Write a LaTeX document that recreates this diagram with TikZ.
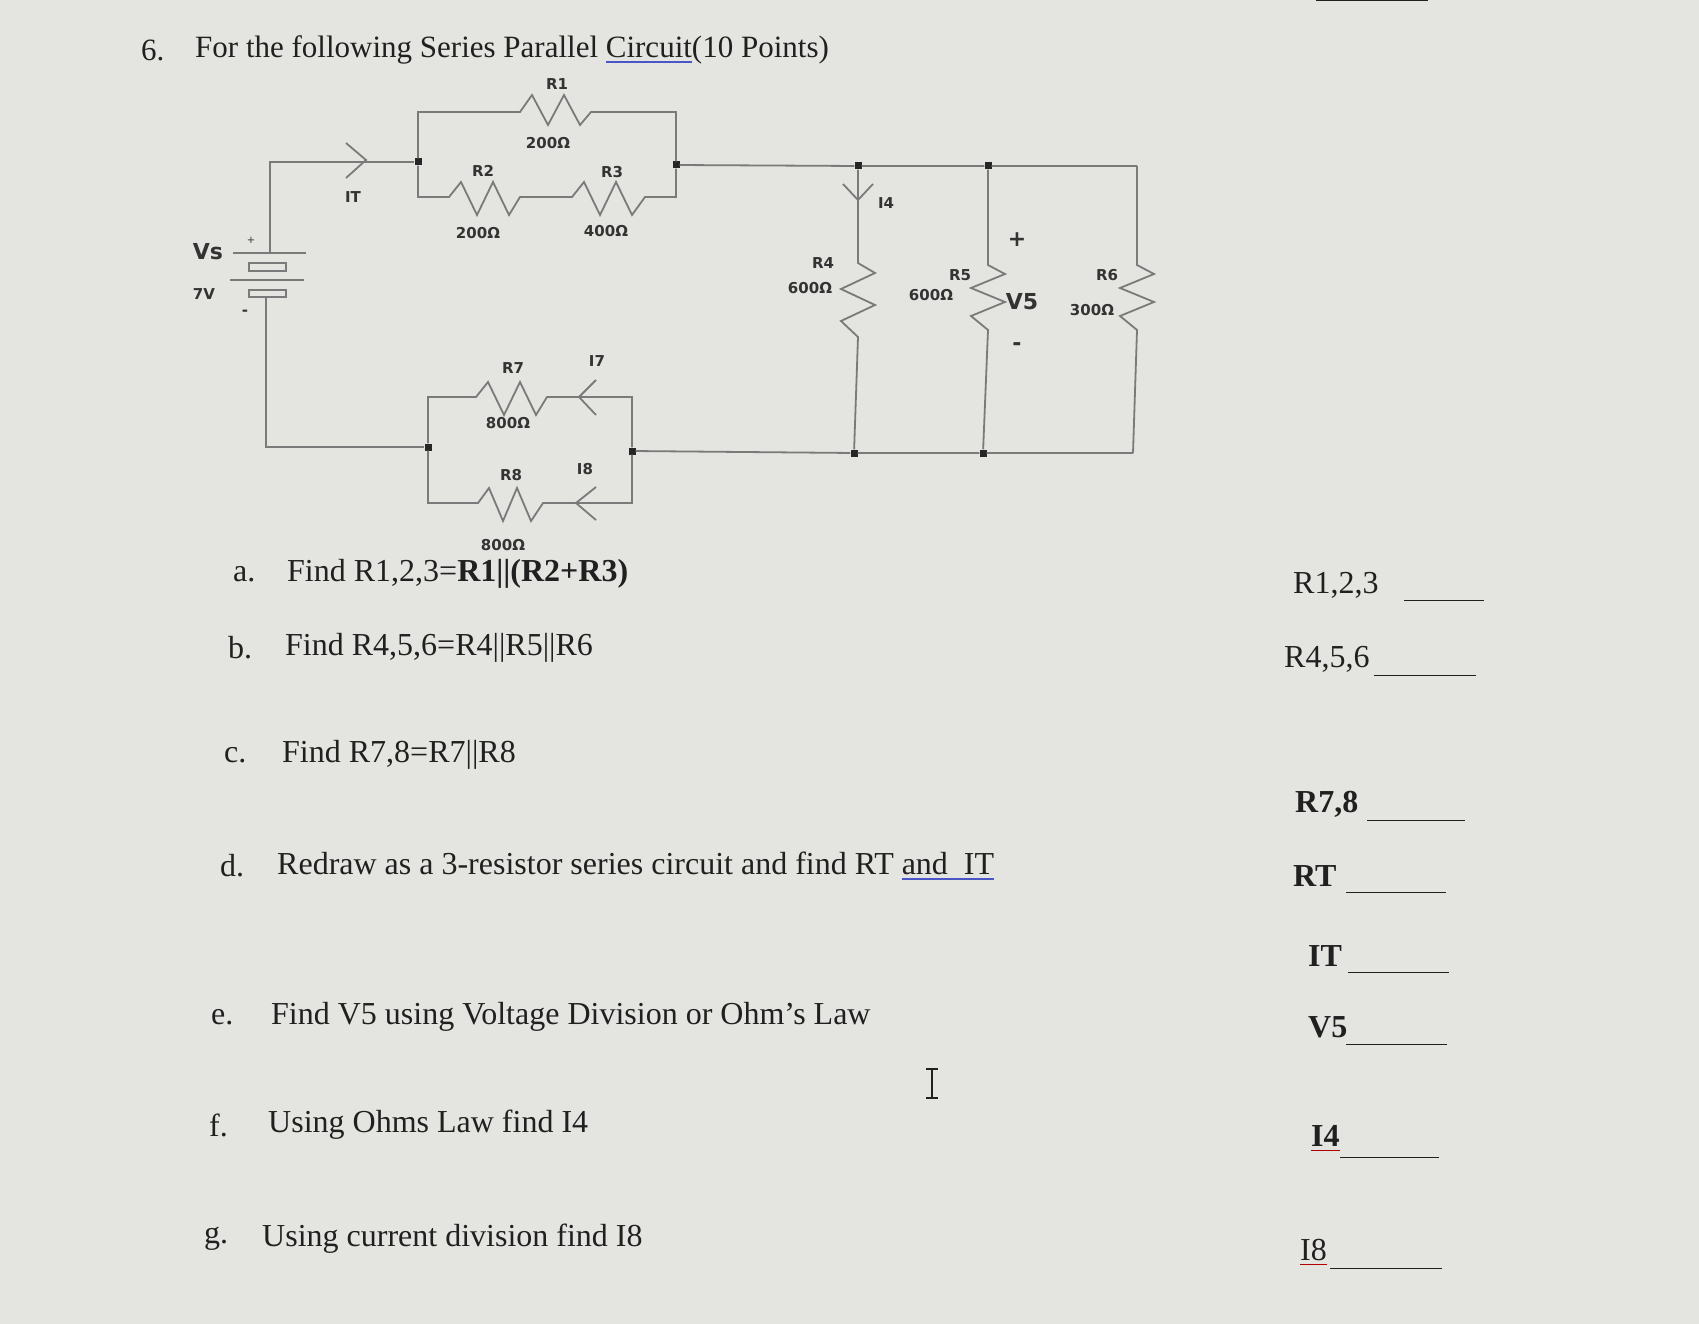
\documentclass[tikz,border=0pt]{standalone}
\usepackage{fontspec}
\setmainfont{Liberation Serif}
\newfontfamily\lblfont{DejaVu Sans}
\definecolor{bg}{HTML}{E4E4E1}
\definecolor{wire}{HTML}{7A7A7A}
\definecolor{ink}{HTML}{202020}
\definecolor{lnk}{HTML}{4A55C8}
\newcommand\bluul[1]{\setbox0\hbox{#1}\rlap{\color{lnk}\rule[-5pt]{\wd0}{1.6pt}}\box0}
\newcommand\redul[1]{\setbox0\hbox{#1}\rlap{\color{red!70!black}\rule[-5pt]{\wd0}{1pt}}\box0}
\begin{document}
\begin{tikzpicture}[x=1pt,y=-1pt,
  wr/.style={draw=wire,line width=1.8pt,line join=miter},
  jn/.style={fill=black!85,inner sep=0pt,minimum size=7pt,rectangle},
  lbl/.style={font=\lblfont\bfseries\fontsize{15}{17}\selectfont,text=black!80,inner sep=0pt},
  qt/.style={font=\fontsize{32}{36}\selectfont,text=ink,anchor=west,inner sep=0pt},
  ans/.style={draw=ink,line width=1pt}]
\fill[bg] (0,0) rectangle (1699,1324);
\useasboundingbox (0,0) rectangle (1699,1324);
\draw[ans] (1316,1) -- (1428,1);
% junctions
\node[jn] (n1) at (418,162) {};
\node[jn] (n2) at (676,165) {};
\node[jn] (n4t) at (858,166) {};
\node[jn] (n5t) at (988,166) {};
\node[jn] (n4b) at (854,453) {};
\node[jn] (n5b) at (983,453) {};
\node[jn] (nL) at (428,447) {};
\node[jn] (nR) at (632,451) {};
\coordinate (bt) at (270,253);
\coordinate (bb) at (266,297);
\coordinate (r6t) at (1137,166);
\coordinate (r6b) at (1133,453);
% battery
\draw[wr] (bt) |- (n1);
\draw[wr] (233,253) -- (306,253);
\draw[wr] (249,263) rectangle (286,271);
\draw[wr] (230,280) -- (304,280);
\draw[wr] (249,290) rectangle (286,297);
\draw[wr] (bb) |- (nL);
% R1
\draw[wr] (n1) |- (520,112) -- ++(12,-17) -- ++(16,30) -- ++(16,-30) -- ++(16,30) -- ++(11,-13) -| (n2);
% R2 R3
\draw[wr] (n1) |- (449,197) -- ++(12,-15) -- ++(16,33) -- ++(16,-33) -- ++(16,33) -- ++(11,-18)
  -- (572,197) -- ++(12,-15) -- ++(16,33) -- ++(16,-33) -- ++(16,33) -- ++(13,-18) -| (n2);
% top wire
\draw[wr] (n2) -- (n4t) -- (n5t) -- (r6t);
% R4
\draw[wr] (n4t) -- (858,263) -- ++(17,10) -- ++(-34,16) -- ++(34,16) -- ++(-34,16) -- ++(17,16) -- (n4b);
% R5
\draw[wr] (n5t) -- (988,265) -- ++(17,9) -- ++(-34,14) -- ++(34,14) -- ++(-34,14) -- ++(17,14) -- (n5b);
% R6
\draw[wr] (r6t) -- (1137,265) -- ++(17,9) -- ++(-34,14) -- ++(34,14) -- ++(-34,14) -- ++(17,14) -- (r6b);
% bottom
\draw[wr] (nR) -- (n4b) -- (n5b) -- (r6b);
% R7 R8
\draw[wr] (nL) |- (476,397) -- ++(12,-15) -- ++(16,33) -- ++(16,-33) -- ++(16,33) -- ++(11,-18) -| (nR);
\draw[wr] (nL) |- (478,503) -- ++(11,-15) -- ++(14,33) -- ++(14,-33) -- ++(14,33) -- ++(12,-18) -| (nR);
% current chevrons
\draw[wr] (346,143) -- (366,160) -- (346,178);
\draw[wr] (843,184) -- (858,200) -- (873,184);
\draw[wr] (596,380) -- (579,397) -- (596,415);
\draw[wr] (596,487) -- (576,503) -- (596,520);
% circuit labels
\node[lbl] (lR1) at (557,84) {R1};
\node[lbl] (lR1v) at (548,143) {200Ω};
\node[lbl] (lR2) at (483,171) {R2};
\node[lbl] (lR2v) at (478,233) {200Ω};
\node[lbl] (lR3) at (612,172) {R3};
\node[lbl] (lR3v) at (606,231) {400Ω};
\node[lbl] (lIT) at (353,197) {IT};
\node[lbl,font=\lblfont\bfseries\fontsize{22}{24}\selectfont] (lVs) at (208,252) {Vs};
\node[lbl] (lVv) at (204,294) {7V};
\node[lbl,font=\lblfont\fontsize{10}{12}\selectfont] (lp) at (251,240) {+};
\node[lbl] (lm) at (245,313) {-};
\node[lbl] (lR7) at (513,368) {R7};
\node[lbl] (lR7v) at (508,423) {800Ω};
\node[lbl] (lI7) at (597,361) {I7};
\node[lbl] (lR8) at (511,475) {R8};
\node[lbl] (lI8) at (585,469) {I8};
\node[lbl] (lR8v) at (503,545) {800Ω};
\node[lbl] (lI4) at (886,203) {I4};
\node[lbl] (lR4) at (823,263) {R4};
\node[lbl] (lR4v) at (810,288) {600Ω};
\node[lbl] (lR5) at (960,275) {R5};
\node[lbl] (lR5v) at (931,295) {600Ω};
\node[lbl,font=\lblfont\bfseries\fontsize{22}{24}\selectfont] (lplus) at (1017,240) {+};
\node[lbl,font=\lblfont\bfseries\fontsize{22}{24}\selectfont] (lV5) at (1022,302) {V5};
\node[lbl,font=\lblfont\bfseries\fontsize{22}{24}\selectfont] (lminus) at (1017,347) {-};
\node[lbl] (lR6) at (1107,275) {R6};
\node[lbl] (lR6v) at (1092,310) {300Ω};
% title
\node[qt,font=\fontsize{31}{34}\selectfont] (t6) at (141,50) {6.};
\node[qt,font=\fontsize{31}{34}\selectfont] (title) at (195,50) {For the following Series Parallel \bluul{Circuit}(10 Points)};
% questions
\node[qt] (qa) at (233,574) {a.};
\node[qt] (qat) at (287,574) {Find R1,2,3=\textbf{R1||(R2+R3)}};
\node[qt] (qb) at (228,648) {b.};
\node[qt] (qbt) at (285,648) {Find R4,5,6=R4||R5||R6};
\node[qt] (qc) at (224,755) {c.};
\node[qt] (qct) at (282,755) {Find R7,8=R7||R8};
\node[qt] (qd) at (220,866) {d.};
\node[qt] (qdt) at (277,866) {Redraw as a 3-resistor series circuit and find RT \bluul{and\ \ IT}};
\node[qt] (qe) at (211,1017) {e.};
\node[qt] (qet) at (271,1017) {Find V5 using Voltage Division or Ohm’s Law};
\node[qt] (qf) at (209,1125) {f.};
\node[qt] (qft) at (268,1125) {Using Ohms Law find I4};
\node[qt] (qg) at (204,1239) {g.};
\node[qt] (qgt) at (262,1239) {Using current division find I8};
% answers
\node[qt] (aa) at (1293,585) {R1,2,3};
\draw[ans] (1404,600) -- (1484,600);
\node[qt] (ab) at (1284,659) {R4,5,6};
\draw[ans] (1374,675) -- (1476,675);
\node[qt] (ac) at (1295,804) {\textbf{R7,8}};
\draw[ans] (1367,820) -- (1465,820);
\node[qt] (ad) at (1293,876) {\textbf{RT}};
\draw[ans] (1346,892) -- (1446,892);
\node[qt] (ae) at (1308,956) {\textbf{IT}};
\draw[ans] (1348,972) -- (1449,972);
\node[qt] (af) at (1308,1027) {\textbf{V5}};
\draw[ans] (1346,1044) -- (1447,1044);
\node[qt] (ag) at (1311,1138) {\textbf{\redul{I4}}};
\draw[ans] (1340,1157) -- (1439,1157);
\node[qt] (ah) at (1300,1252) {\redul{I8}};
\draw[ans] (1330,1268) -- (1442,1268);
% text cursor
\draw[ink,line width=1.4pt] (926,1069) -- (938,1069) (932,1069) -- (932,1098) (926,1098) -- (938,1098);
\end{tikzpicture}
\end{document}
